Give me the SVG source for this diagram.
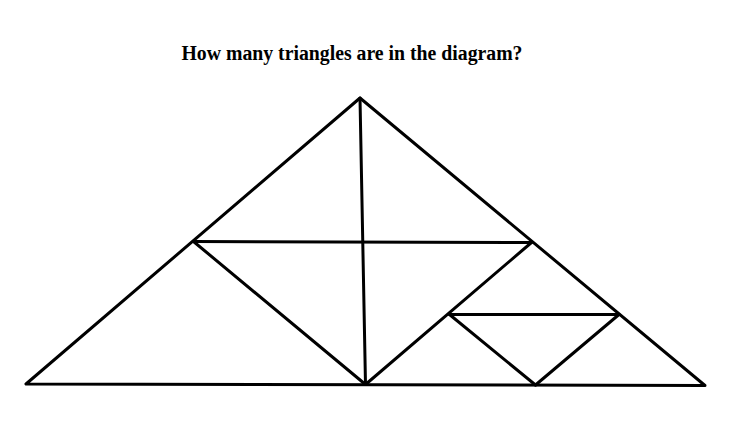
<svg xmlns="http://www.w3.org/2000/svg" width="742" height="433" viewBox="0 0 742 433">
<style>
.t{font-family:"Liberation Serif","Times New Roman",serif;font-weight:bold;font-size:20px;fill:#000}
.l{stroke:#000;stroke-width:3;fill:none;stroke-linecap:round;stroke-linejoin:round}
</style>
<rect width="742" height="433" fill="#fff"/>
<text class="t" x="181.5" y="59.5" textLength="341" lengthAdjust="spacingAndGlyphs">How many triangles are in the diagram?</text>
<g id="connectors">
<polygon class="l" points="360,98 26,384 705,385.5"/>
<line class="l" x1="360" y1="98" x2="365.5" y2="384.5"/>
<line class="l" x1="193.5" y1="241.5" x2="531.5" y2="242.5"/>
<line class="l" x1="193.5" y1="241.5" x2="365.5" y2="384.5"/>
<line class="l" x1="531.5" y1="242.5" x2="365.5" y2="384.5"/>
<line class="l" x1="449.5" y1="314.5" x2="619" y2="314.5"/>
<line class="l" x1="449.5" y1="314.5" x2="535.5" y2="385"/>
<line class="l" x1="619" y1="314.5" x2="535.5" y2="385"/>
</g>
</svg>
